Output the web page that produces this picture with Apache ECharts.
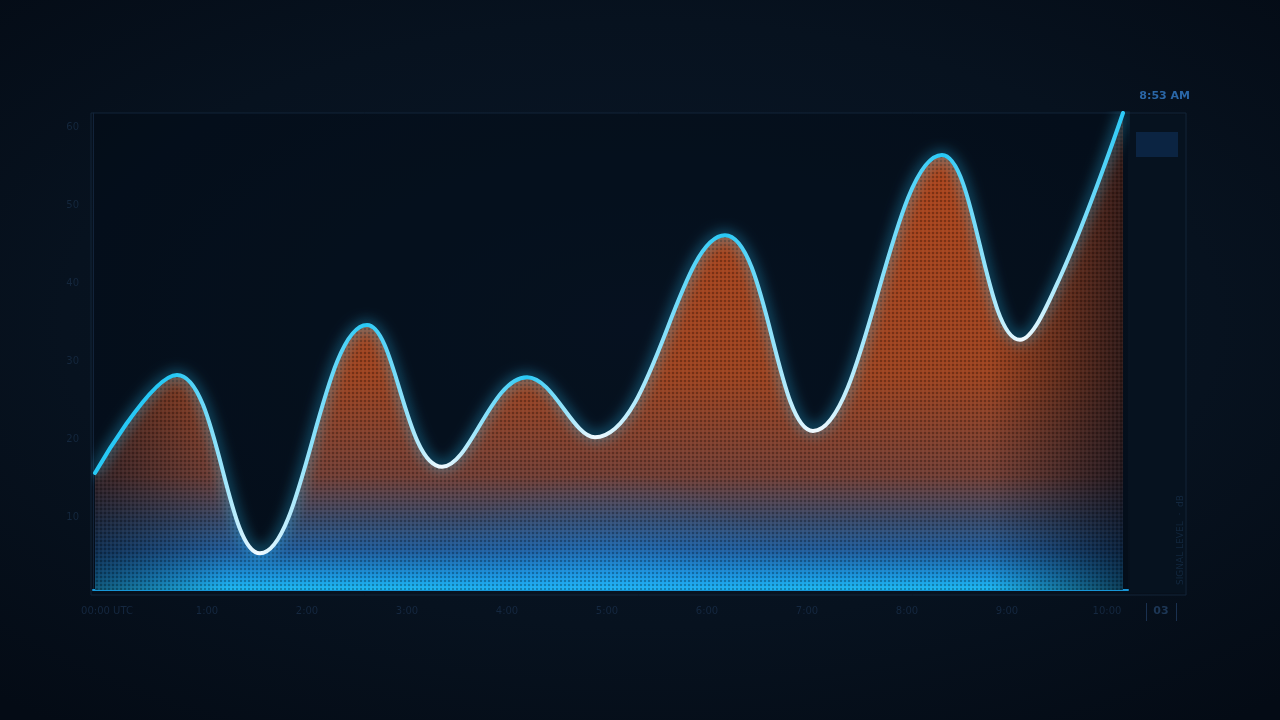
<!DOCTYPE html>
<html>
<head>
<meta charset="utf-8">
<script src="https://cdn.jsdelivr.net/npm/echarts@6/dist/echarts.min.js"></script>
<style>
html,body{margin:0;padding:0;width:1280px;height:720px;overflow:hidden;
background:radial-gradient(ellipse 75% 70% at 50% 45%, #0a1728 0%, #07121f 60%, #040b15 100%);}
#chart{width:1280px;height:720px;}
</style>
</head>
<body>
<div id="chart"></div>
<script>
// ---- data ----
const xValues = [-0.12, 0.70, 1.53, 2.60, 3.35, 4.20, 4.88, 6.18, 7.06, 8.35, 9.13, 9.53, 10.16];
const yValues = [15.0, 27.6, 4.7, 34.0, 15.8, 27.3, 19.6, 45.5, 20.4, 55.8, 32.1, 40.1, 61.2];
const xTickValues = [0, 1, 2, 3, 4, 5, 6, 7, 8, 9, 10];
const xTickLabels = ['00:00 UTC', '1:00', '2:00', '3:00', '4:00', '5:00', '6:00', '7:00', '8:00', '9:00', '10:00'];
const yTickValues = [10, 20, 30, 40, 50, 60];
const cornerLabel = '8:53 AM';
const pageLabel = '03';
const sideLabel = 'SIGNAL LEVEL  ·  dB';

const points = xValues.map((x, i) => [x, yValues[i]]);

// line colour: cyan on crests, white in troughs
const CYAN = '#27c9f6', WHITE = '#f2faff';
const x0 = xValues[0], x1 = xValues[xValues.length - 1];
const lineStops = [];
yValues.forEach((y, i) => {
  const prev = i > 0 ? yValues[i - 1] : -Infinity;
  const next = i < yValues.length - 1 ? yValues[i + 1] : -Infinity;
  const isMax = (i === 0 || i === yValues.length - 1) ? true : (y > prev && y > next);
  const isMin = (i > 0 && i < yValues.length - 1) && (y < prev && y < next);
  if (isMax || isMin) lineStops.push({ offset: (xValues[i] - x0) / (x1 - x0), color: isMax ? CYAN : WHITE });
});

// dot texture
const pat = document.createElement('canvas');
pat.width = 4; pat.height = 4;
const pctx = pat.getContext('2d');
pctx.fillStyle = 'rgba(0,0,0,0.26)';
pctx.fillRect(0, 0, 2, 2);
pctx.fillStyle = 'rgba(255,255,255,0.035)';
pctx.fillRect(2, 2, 2, 2);

const chart = echarts.init(document.getElementById('chart'), null, { renderer: 'canvas' });

const common = { type: 'line', data: points, smooth: 0.4, showSymbol: false, silent: true };

chart.setOption({
  backgroundColor: 'transparent',
  animation: false,
  grid: { left: 93, right: 152, top: 113, bottom: 130, show: true, backgroundColor: 'rgba(3,10,22,0.45)', borderWidth: 0 },
  xAxis: {
    type: 'value', min: -0.14, max: 10.21,
    axisLine: { show: true, onZero: false, lineStyle: { color: '#1896d6', width: 2 } },
    axisTick: { show: false },
    splitLine: { show: false },
    axisLabel: {
      customValues: xTickValues,
      formatter: v => xTickLabels[xTickValues.indexOf(v)] || '',
      color: '#152840', fontSize: 10, margin: 16, fontFamily: 'DejaVu Sans'
    }
  },
  yAxis: {
    type: 'value', min: 0, max: 61.2, interval: 10,
    axisLine: { show: true, onZero: false, lineStyle: { color: '#12233a', width: 1 } },
    axisTick: { show: false },
    splitLine: { show: false },
    axisLabel: {
      customValues: yTickValues,
      color: '#14273d', fontSize: 10, margin: 14, verticalAlign: 'top', fontFamily: 'DejaVu Sans'
    }
  },
  graphic: [
    { type: 'rect', shape: { x: 91, y: 113, width: 1095, height: 482 }, style: { fill: 'none', stroke: '#132439', lineWidth: 1 }, z: 1, silent: true },
    { type: 'rect', shape: { x: 1130, y: 115, width: 55, height: 478 }, style: { fill: '#06121f' }, z: 0, silent: true },
    { type: 'rect', shape: { x: 1136, y: 132, width: 42, height: 25 }, style: { fill: '#0b2442' }, z: 1, silent: true },
    { type: 'text', x: 1190, y: 91, style: { text: cornerLabel, fill: '#2a66a6', font: 'bold 11px "DejaVu Sans"', align: 'right' }, z: 5, silent: true },
    { type: 'text', x: 1161, y: 606, style: { text: pageLabel, fill: '#1d3756', font: 'bold 11px "DejaVu Sans"', align: 'center' }, z: 5, silent: true },
    { type: 'rect', shape: { x: 1146, y: 603, width: 1, height: 18 }, style: { fill: '#1a3150' }, silent: true },
    { type: 'rect', shape: { x: 1176, y: 603, width: 1, height: 18 }, style: { fill: '#1a3150' }, silent: true },
    { type: 'text', x: 1176, y: 585, rotation: Math.PI / 2, style: { text: sideLabel, fill: '#13283f', font: '9px "DejaVu Sans"', align: 'left' }, z: 5, silent: true }
  ],
  series: [
    Object.assign({}, common, {
      z: 2,
      lineStyle: { width: 0 },
      areaStyle: {
        opacity: 1,
        color: new echarts.graphic.LinearGradient(0, 0, 0, 1, [
          { offset: 0, color: '#ac441b' },
          { offset: 0.55, color: '#9c4320' },
          { offset: 0.76, color: '#733f35' },
          { offset: 0.85, color: '#3a4968' },
          { offset: 0.92, color: '#1f5e9e' },
          { offset: 0.97, color: '#1892da' },
          { offset: 1, color: '#1cb8f2' }
        ])
      }
    }),
    Object.assign({}, common, {
      z: 3,
      lineStyle: { width: 0 },
      areaStyle: {
        opacity: 1,
        color: new echarts.graphic.RadialGradient(0.5, 1.25, 0.5, [
          { offset: 0, color: 'rgba(40,210,255,0.9)' },
          { offset: 0.45, color: 'rgba(35,180,250,0.5)' },
          { offset: 0.75, color: 'rgba(30,140,240,0.12)' },
          { offset: 1, color: 'rgba(30,140,240,0)' }
        ])
      }
    }),
    Object.assign({}, common, {
      z: 4,
      lineStyle: { width: 0 },
      areaStyle: {
        opacity: 1,
        color: new echarts.graphic.LinearGradient(0, 0, 1, 0, [
          { offset: 0, color: 'rgba(4,10,22,0.55)' },
          { offset: 0.13, color: 'rgba(4,10,22,0)' },
          { offset: 0.87, color: 'rgba(4,10,22,0)' },
          { offset: 1, color: 'rgba(4,10,22,0.7)' }
        ])
      }
    }),
    Object.assign({}, common, {
      z: 5,
      lineStyle: { width: 0 },
      areaStyle: { opacity: 1, color: { image: pat, repeat: 'repeat' } }
    }),
    Object.assign({}, common, {
      z: 6,
      lineStyle: {
        width: 4,
        color: new echarts.graphic.LinearGradient(0, 0, 1, 0, lineStops),
        shadowColor: 'rgba(40,200,255,0.9)',
        shadowBlur: 14,
        cap: 'round'
      }
    })
  ]
});
</script>
</body>
</html>
